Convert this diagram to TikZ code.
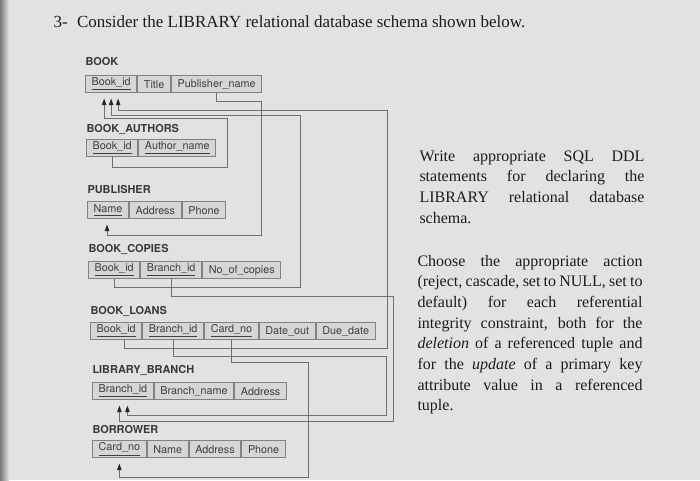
\documentclass[tikz,border=0pt]{standalone}
\usepackage{fontspec}
\setmainfont{Liberation Serif}
\newfontfamily\schemafont{TeX Gyre Heros}
\usetikzlibrary{arrows.meta,calc}

\definecolor{paper}{RGB}{226,226,226}
\definecolor{paperdark}{RGB}{120,120,120}
\definecolor{cellfill}{RGB}{214,214,215}
\definecolor{cellline}{RGB}{130,130,132}
\definecolor{celltext}{RGB}{62,62,68}
\definecolor{linkgray}{RGB}{112,112,116}
\definecolor{inktext}{RGB}{28,28,30}

\newcommand{\pk}[1]{\underline{#1}}
\newcommand{\jline}[1]{\makebox[\linewidth][s]{#1}}

\tikzset{every picture/.style={line width=0.75pt}}
\tikzset{
	relname/.style={anchor=west, inner sep=0pt, text=black!78, font=\schemafont\fontsize{8.2}{9}\selectfont\bfseries},
	attr/.style={draw=cellline, fill=cellfill, minimum height=13.1pt, inner xsep=4.6pt, inner ysep=0pt, text=celltext, font=\schemafont\fontsize{8.1}{9}\selectfont},
	fk/.style={draw=linkgray, -{Triangle[length=5pt,width=3.3pt,color=black!85]}},
	task/.style={anchor=base west, inner sep=0pt, text=inktext},
}

\begin{document}
\begin{tikzpicture}[x=0.75pt,y=0.75pt,yscale=-1,xscale=1]
	%set diagram left start at 0, and has height of 480
	\fill[paper] (0,0) rectangle (700,480);
	\fill[left color=paperdark, right color=paper, draw=none] (0,0) rectangle (9,480);
	
	% Heading
	\node[task, font=\fontsize{12.75}{15}\selectfont] (head) at (53,27) {3-\hspace{0.55em}Consider the LIBRARY relational database schema shown below.};
	
	% BOOK
	\node[relname] (book) at (85,62) {BOOK};
	\node[attr, anchor=north west] (book-id) at (85,75) {\pk{Book\_id}};
	\node[attr, anchor=west] (book-title) at (book-id.east) {Title};
	\node[attr, anchor=west] (book-pub) at (book-title.east) {Publisher\_name};
	
	% BOOK_AUTHORS
	\node[relname] (ba) at (86,129) {BOOK\_AUTHORS};
	\node[attr, anchor=north west] (ba-id) at (86,139) {\pk{Book\_id}};
	\node[attr, anchor=west] (ba-name) at (ba-id.east) {\pk{Author\_name}};
	
	% PUBLISHER
	\node[relname] (pub) at (87,190) {PUBLISHER};
	\node[attr, anchor=north west] (pub-name) at (87,201) {\pk{Name}};
	\node[attr, anchor=west] (pub-addr) at (pub-name.east) {Address};
	\node[attr, anchor=west] (pub-phone) at (pub-addr.east) {Phone};
	
	% BOOK_COPIES
	\node[relname] (bc) at (88,249) {BOOK\_COPIES};
	\node[attr, anchor=north west] (bc-id) at (88,261) {\pk{Book\_id}};
	\node[attr, anchor=west] (bc-br) at (bc-id.east) {\pk{Branch\_id}};
	\node[attr, anchor=west] (bc-no) at (bc-br.east) {No\_of\_copies};
	
	% BOOK_LOANS
	\node[relname] (bl) at (90,311) {BOOK\_LOANS};
	\node[attr, anchor=north west] (bl-id) at (90,322) {\pk{Book\_id}};
	\node[attr, anchor=west] (bl-br) at (bl-id.east) {\pk{Branch\_id}};
	\node[attr, anchor=west] (bl-card) at (bl-br.east) {\pk{Card\_no}};
	\node[attr, anchor=west] (bl-out) at (bl-card.east) {Date\_out};
	\node[attr, anchor=west] (bl-due) at (bl-out.east) {Due\_date};
	
	% LIBRARY_BRANCH
	\node[relname] (lb) at (92,370) {LIBRARY\_BRANCH};
	\node[attr, anchor=north west] (lb-id) at (92,382) {\pk{Branch\_id}};
	\node[attr, anchor=west] (lb-name) at (lb-id.east) {Branch\_name};
	\node[attr, anchor=west] (lb-addr) at (lb-name.east) {Address};
	
	% BORROWER
	\node[relname] (bor) at (92,430) {BORROWER};
	\node[attr, anchor=north west] (bor-card) at (92,440) {\pk{Card\_no}};
	\node[attr, anchor=west] (bor-name) at (bor-card.east) {Name};
	\node[attr, anchor=west] (bor-addr) at (bor-name.east) {Address};
	\node[attr, anchor=west] (bor-phone) at (bor-addr.east) {Phone};
	
	% Referential links
	\draw[fk] (ba-id.south) |- (227,167) -- (227,118) -| ($(book-id.south)+(-7,5)$);
	\draw[fk] (bc-id.south) |- (300,287) -- (300,115) -| ($(book-id.south)+(0,5)$);
	\draw[fk] ($(bl-id.south)+(8,0)$) |- (387,348) -- (387,110) -| ($(book-id.south)+(7,5)$);
	\draw[fk] (book-pub.south) |- (261,101) -- (261,235) -| ($(pub-name.south)+(-1,5)$);
	\draw[fk] (bc-br.south) |- (393,296) -- (393,421) -| ($(lb-id.south)+(-3.5,5)$);
	\draw[fk] (bl-br.south) |- (386,356) -- (386,415) -| ($(lb-id.south)+(4.5,5)$);
	\draw[fk] (bl-card.south) |- (308,362) -- (308,477) -| ($(bor-card.south)+(0,5)$);
	
	% Text Node
	\node[task] (ddl) at (419,161) {\parbox[t]{168.75pt}{\fontsize{12}{15.6}\selectfont
		\jline{Write appropriate SQL DDL}\\
		\jline{statements for declaring the}\\
		\jline{LIBRARY relational database}\\
		schema.}};
	% Text Node
	\node[task] (actions) at (417,266) {\parbox[t]{168.75pt}{\fontsize{12}{15.5}\selectfont
		\jline{Choose the appropriate action}\\
		\jline{(reject, cascade, set to NULL, set to}\\
		\jline{default) for each referential}\\
		\jline{integrity constraint, both for the}\\
		\jline{\textit{deletion} of a referenced tuple and}\\
		\jline{for the \textit{update} of a primary key}\\
		\jline{attribute value in a referenced}\\
		tuple.}};
	
\end{tikzpicture}
\end{document}
